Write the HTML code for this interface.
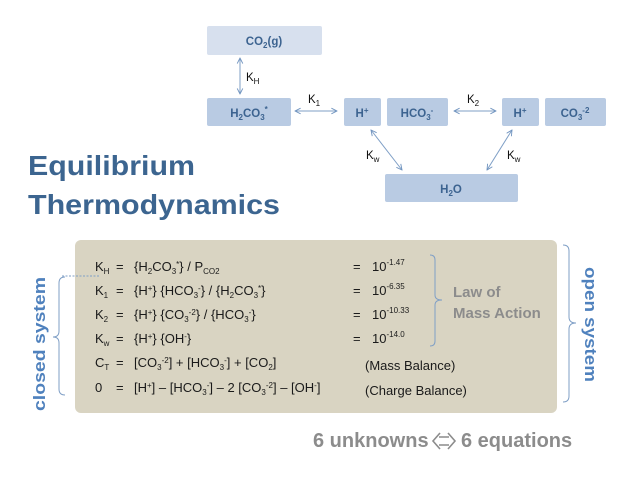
<!DOCTYPE html>
<html><head><meta charset="utf-8"><style>
html,body{margin:0;padding:0;background:#fff;}
svg{display:block;font-family:"Liberation Sans",sans-serif;}
</style></head><body>
<svg width="638" height="479" viewBox="0 0 638 479" xmlns="http://www.w3.org/2000/svg">
<defs>
<marker id="a" viewBox="0 0 10 10" refX="9" refY="5" markerWidth="7" markerHeight="7" orient="auto-start-reverse"><path d="M1,1 L9,5 L1,9" fill="none" stroke="#6f93bf" stroke-width="1.3"/></marker>
</defs>
<rect x="207" y="26" width="115" height="29" rx="2" fill="#d7e0ee"/>
<rect x="207" y="98" width="84" height="28" rx="2" fill="#b9cbe3"/>
<rect x="344" y="98" width="37" height="28" rx="2" fill="#b9cbe3"/>
<rect x="387" y="98" width="61" height="28" rx="2" fill="#b9cbe3"/>
<rect x="502" y="98" width="37" height="28" rx="2" fill="#b9cbe3"/>
<rect x="545" y="98" width="61" height="28" rx="2" fill="#b9cbe3"/>
<rect x="385" y="174" width="133" height="28" rx="2" fill="#b9cbe3"/>
<g font-size="11.5" font-weight="bold" fill="#3c6390" text-anchor="middle">
<text x="264" y="45">CO<tspan font-size="8" dy="3">2</tspan><tspan dy="-3">(g)</tspan></text>
<text x="249" y="117">H<tspan font-size="8" dy="3">2</tspan><tspan dy="-3">CO</tspan><tspan font-size="8" dy="3">3</tspan><tspan font-size="8" dy="-8">*</tspan></text>
<text x="362" y="117">H<tspan font-size="8" dy="-4">+</tspan></text>
<text x="417" y="117">HCO<tspan font-size="8" dy="3">3</tspan><tspan font-size="8" dy="-7">-</tspan></text>
<text x="520" y="117">H<tspan font-size="8" dy="-4">+</tspan></text>
<text x="575" y="117">CO<tspan font-size="8" dy="3">3</tspan><tspan font-size="8" dy="-7">-2</tspan></text>
<text x="451" y="193">H<tspan font-size="8" dy="3">2</tspan><tspan dy="-3">O</tspan></text>
</g>
<g stroke="#7f9fc6" stroke-width="1" marker-start="url(#a)" marker-end="url(#a)">
<line x1="240" y1="58" x2="240" y2="94"/>
<line x1="295" y1="111" x2="337" y2="111"/>
<line x1="454" y1="111" x2="496" y2="111"/>
<line x1="371" y1="130" x2="402" y2="170"/>
<line x1="512" y1="130" x2="487" y2="170"/>
</g>
<g font-size="11.5" fill="#111">
<text x="246" y="81">K<tspan font-size="8" dy="3">H</tspan></text>
<text x="308" y="103">K<tspan font-size="8" dy="3">1</tspan></text>
<text x="467" y="103">K<tspan font-size="8" dy="3">2</tspan></text>
<text x="366" y="159">K<tspan font-size="8" dy="3">w</tspan></text>
<text x="507" y="159">K<tspan font-size="8" dy="3">w</tspan></text>
</g>
<g font-size="28" font-weight="bold" fill="#3c6590">
<text x="28" y="175" textLength="167" lengthAdjust="spacingAndGlyphs">Equilibrium</text>
<text x="28" y="214" textLength="252" lengthAdjust="spacingAndGlyphs">Thermodynamics</text>
</g>
<rect x="75" y="240" width="482" height="173" rx="6" fill="#d9d4c2"/>
<g font-size="13" fill="#1a1a1a">
<text x="95" y="271">K<tspan font-size="8" dy="3">H</tspan></text><text x="116" y="271">=</text>
<text x="134" y="271">{H<tspan font-size="8" dy="3">2</tspan><tspan dy="-3">CO</tspan><tspan font-size="8" dy="3">3</tspan><tspan font-size="8" dy="-7">*</tspan><tspan dy="4">} / P</tspan><tspan font-size="8" dy="3">CO2</tspan></text>
<text x="95" y="295">K<tspan font-size="8" dy="3">1</tspan></text><text x="116" y="295">=</text>
<text x="134" y="295">{H<tspan font-size="8" dy="-4">+</tspan><tspan dy="4">} {HCO</tspan><tspan font-size="8" dy="3">3</tspan><tspan font-size="8" dy="-7">-</tspan><tspan dy="4">} / {H</tspan><tspan font-size="8" dy="3">2</tspan><tspan dy="-3">CO</tspan><tspan font-size="8" dy="3">3</tspan><tspan font-size="8" dy="-7">*</tspan><tspan dy="4">}</tspan></text>
<text x="95" y="319">K<tspan font-size="8" dy="3">2</tspan></text><text x="116" y="319">=</text>
<text x="134" y="319">{H<tspan font-size="8" dy="-4">+</tspan><tspan dy="4">} {CO</tspan><tspan font-size="8" dy="3">3</tspan><tspan font-size="8" dy="-7">-2</tspan><tspan dy="4">} / {HCO</tspan><tspan font-size="8" dy="3">3</tspan><tspan font-size="8" dy="-7">-</tspan><tspan dy="4">}</tspan></text>
<text x="95" y="343">K<tspan font-size="8" dy="3">w</tspan></text><text x="116" y="343">=</text>
<text x="134" y="343">{H<tspan font-size="8" dy="-4">+</tspan><tspan dy="4">} {OH</tspan><tspan font-size="8" dy="-4">-</tspan><tspan dy="4">}</tspan></text>
<text x="95" y="367">C<tspan font-size="8" dy="3">T</tspan></text><text x="116" y="367">=</text>
<text x="134" y="367">[CO<tspan font-size="8" dy="3">3</tspan><tspan font-size="8" dy="-7">-2</tspan><tspan dy="4">] + [HCO</tspan><tspan font-size="8" dy="3">3</tspan><tspan font-size="8" dy="-7">-</tspan><tspan dy="4">] + [CO</tspan><tspan font-size="8" dy="3">2</tspan><tspan dy="-3">]</tspan></text>
<text x="95" y="392">0</text><text x="116" y="392">=</text>
<text x="134" y="392">[H<tspan font-size="8" dy="-4">+</tspan><tspan dy="4">] – [HCO</tspan><tspan font-size="8" dy="3">3</tspan><tspan font-size="8" dy="-7">-</tspan><tspan dy="4">] – 2 [CO</tspan><tspan font-size="8" dy="3">3</tspan><tspan font-size="8" dy="-7">-2</tspan><tspan dy="4">] – [OH</tspan><tspan font-size="8" dy="-4">-</tspan><tspan dy="4">]</tspan></text>
<text x="353" y="271">=</text><text x="372" y="271">10<tspan font-size="8" dy="-6">-1.47</tspan></text>
<text x="353" y="295">=</text><text x="372" y="295">10<tspan font-size="8" dy="-6">-6.35</tspan></text>
<text x="353" y="319">=</text><text x="372" y="319">10<tspan font-size="8" dy="-6">-10.33</tspan></text>
<text x="353" y="343">=</text><text x="372" y="343">10<tspan font-size="8" dy="-6">-14.0</tspan></text>
<text x="365" y="370">(Mass Balance)</text>
<text x="365" y="395">(Charge Balance)</text>
</g>
<g font-size="15" font-weight="bold" fill="#8c8c8c"><text x="453" y="297">Law of</text><text x="453" y="318">Mass Action</text></g>
<g fill="none" stroke="#7f9fc6" stroke-width="1">
<path d="M430,255 q5,0 5,5 v35 q0,5 7,5 q-7,0 -7,5 v36 q0,5 -5,5"/>
<path d="M563,245 q6,0 6,6 v66 q0,6 7,6 q-7,0 -7,6 v67 q0,6 -6,6"/>
<path d="M65,277 q-6,0 -6,6 v48 q0,6 -6,6 q6,0 6,6 v46 q0,6 6,6"/>
<line x1="62" y1="276" x2="100" y2="276" stroke-dasharray="2,1.5"/>
</g>
<g font-size="17" font-weight="bold" fill="#4f81bd">
<text transform="translate(45,411) rotate(-90)" textLength="134" lengthAdjust="spacingAndGlyphs">closed  system</text>
<text transform="translate(585,267) rotate(90)" textLength="115" lengthAdjust="spacingAndGlyphs">open  system</text>
</g>
<g font-size="20" font-weight="bold" fill="#8c8c8c">
<text x="313" y="447">6 unknowns</text>
<text x="461" y="447">6 equations</text>
</g>
<g fill="none" stroke="#8c8c8c" stroke-width="1.6">
<path d="M439,437 h10 M439,445 h10"/>
<path d="M440,433 l-7,8 l7,8 M448,433 l7,8 l-7,8"/>
</g>
</svg>
</body></html>
